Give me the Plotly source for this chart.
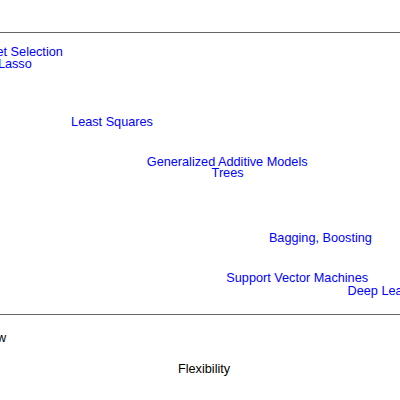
import plotly.graph_objects as go

# Method labels and their (flexibility, interpretability) positions
methods = ["Subset Selection", "Lasso", "Least Squares",
           "Generalized Additive Models", "Trees", "Bagging, Boosting",
           "Support Vector Machines", "Deep Learning"]
flexibility = [0.38, 0.37, 2.80, 5.68, 5.69, 8.01, 7.43, 9.73]
interpretability = [9.30, 8.87, 6.81, 5.38, 4.99, 2.66, 1.24, 0.79]

x_tick_labels = ["Low", "High"]
x_tick_pos = [-0.0125, 1.06]   # positions along the full (wider) original axis
x_title = "Flexibility"

FONT = "Liberation Sans, Arial, Helvetica, sans-serif"

fig = go.Figure()
fig.add_trace(go.Scatter(
    x=flexibility, y=interpretability, mode="text", text=methods,
    textposition="middle center",
    textfont=dict(family=FONT, size=12.7, color="#0000FF"),
    cliponaxis=True, hoverinfo="skip", showlegend=False,
))

for xv, lab in zip(x_tick_pos, x_tick_labels):
    fig.add_annotation(x=xv, y=-0.087, xref="paper", yref="paper", text=lab,
                       showarrow=False, xanchor="center", yanchor="middle",
                       font=dict(family=FONT, size=12.7, color="black"))

fig.add_annotation(x=0.511, y=-0.194, xref="paper", yref="paper", text=x_title,
                   showarrow=False, xanchor="center", yanchor="middle",
                   font=dict(family=FONT, size=12.7, color="black"))

fig.update_layout(
    width=400, height=400,
    margin=dict(l=0, r=0, t=33, b=86),
    paper_bgcolor="white", plot_bgcolor="white",
    xaxis=dict(range=[0, 10], showline=True, mirror=True, linecolor="#666666",
               linewidth=1, showgrid=False, zeroline=False,
               showticklabels=False, ticks=""),
    yaxis=dict(range=[0, 10], showline=False, showgrid=False, zeroline=False,
               showticklabels=False, ticks=""),
)

fig.write_html(
    "out.html",
    config={"displayModeBar": False},
    post_script="document.body.style.margin='0';document.body.style.overflow='hidden';",
)
